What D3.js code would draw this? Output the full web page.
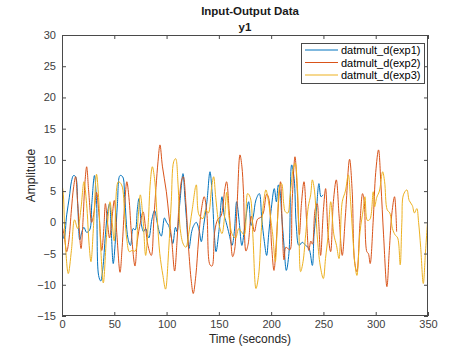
<!DOCTYPE html>
<html>
<head>
<meta charset="utf-8">
<script src="https://cdn.jsdelivr.net/npm/d3@7"></script>
<style>
  html, body { margin: 0; padding: 0; background: #ffffff; }
  svg { display: block; font-family: "Liberation Sans", Arial, Helvetica, sans-serif; }
</style>
</head>
<body>
<svg id="chart" width="474" height="355"></svg>
<script>
// ---- data (time in seconds, amplitude) ----
const seriesNames = ["datmult_d(exp1)", "datmult_d(exp2)", "datmult_d(exp3)"];
const seriesColors = ["#0072BD", "#D95319", "#EDB120"];
const xTicks = [0, 50, 100, 150, 200, 250, 300, 350];
const yTicks = [-15, -10, -5, 0, 5, 10, 15, 20, 25, 30];

const exp1T = [0,2,4.5,7,9,11,13,15,17,19,21,23.5,26.5,28.5,31,33,35,37,39,41.5,43.5,45.5,47,49,51,53,55.5,58,60,63,65.5,68,70,72,73.6,76,78,80,83,86,88.5,91,93,95,98,100,102,104,106,108.5,110,112.5,115.7,117.5,119,121.4,124,126,128.4,131,133.2,135.5,138.6,141.5,143.5,145.7,147.3,150,153,155,157,160,162.6,164.8,167,169.5,172,175,178.5,180.8,183,185.5,188.7,191,193.5,195.7,197.6,199.8,203,205,206.9,208.5,210,212.3,214.5,217,219.6,222,224,226.6,229.8,233,236.2,239.4,241,243.2,245.7,247.7,249.6];
const exp1V = [-1.5,-2.6,1.2,4,6.5,7.5,7.3,3,-2.8,-1.5,-0.8,-1.6,-1.2,3,7.5,3.5,-8.5,-9.4,-7.5,-2,1.5,3,-1,-6.6,-3,3,7.5,7.3,4,-2.5,-3.7,-1,-1.2,2,3.8,-0.4,-1.5,-1,-2.5,0.5,1.9,0,-1.5,-2.2,0.7,0,-0.5,-2,-3.4,-0.8,-1.5,2.8,7.8,4,0.6,-4.2,-1.5,-0.5,0,-1.2,-3.1,-0.5,3.3,8.1,4.9,-2,-4.7,-1.5,4.1,1.2,0,-2,-3.7,-1.5,3.3,0,-3.7,-0.3,3.3,-0.5,1,3.6,4.6,0.6,-3.1,-5.3,-2,1.7,5.4,3.3,6,5,1.4,-3.7,-7.7,-5,9.2,7,-0.4,-3.7,-3.2,-3.7,-4.2,-6.9,-2,1.7,6.2,4.1,4.4];

const exp2T = [0,2,4.5,6.5,9,11,13,15,18.2,20,22,23.6,25.5,28.4,30.5,33,35.5,38,40,41.5,43.5,45.5,48,50,52.5,55.5,57.5,60,62,64,66.5,69.8,72,75,77.5,80,82.2,85.4,88,91.8,93.7,96,99.8,102.3,105,107.7,110,112,114.5,116,118.5,121,123.7,125.5,128,130.5,133.3,136,138.5,141.5,143.5,146,149,152,155.8,157.4,160,163.2,165,167.5,170.2,172,173.5,175.9,178,181,184,187,190,192.5,195.7,197.5,200.5,202.7,205,207,209,210.5,212.3,214,216,218,220,222.8,225,227,229,231.4,234,236,238,239.5,242,244,245.5,247.3,250,252.1,254.5,256.9,259.5,262.3,265,268,271,275,277.5,279.8,282,285,287.4,289,291.5,293,294.7,297.5,300,302.7,305,307.5,310.7,313,315.5,318,320];
const exp2V = [-0.5,-2,-4.7,-3,2,5.5,7.3,3,-4.2,0,6.5,8.9,5,0,1.5,4.8,1,-4.5,-1,3,0,-2.5,1,3.5,-2,-8,-4,3,6.5,4,-2,-7,-3,0,1.7,-1,-3.7,-5.3,1,9.7,12.4,9,4.9,1,-3,-7.8,-3,3,6.8,7.3,3,-4,-9.5,-11.4,-8.5,-3,2,4.1,1.5,-6.8,-7,-1.5,0.5,1,5.4,6.5,1.5,-5.5,-4.5,3,10.8,9,5,-4.6,-3.5,1,-1.5,0.5,0.8,1.5,4.5,4,-3.9,-7.7,-3,3,6.5,0,-6,-4,-4.2,-4.4,3,10.5,5,-2,3,6.5,0,-4.5,-3,-3.5,2,3,0,-5.3,2,5.4,-2,-4.7,3.3,6.8,1,-5.3,1,10.1,5,-6.3,-7.9,0,4.6,3.3,-4.7,-5,-6.6,0,8,11.6,6,-2,-10.3,-4.5,1.5,4.1,-1.5];

const exp3T = [0,1.3,3,6,9,12,15,18,21,23.5,26,27.7,30,33,35,37,39.5,42.7,45.9,48,50,53.8,57,60,62,64.4,67,70,72.5,74.9,77.5,80,82.5,84.5,86.4,88.5,91,93.5,96.5,99,102,104.5,106.8,108.7,111,113,116,118.5,121,124.5,128.4,131,134.8,137.5,140,143,145,147,150,153,155.5,157.5,160,163,166,169,171.5,174.3,177.5,180,182.5,185.5,188,190.5,193,195,197.5,200,201.5,204,206,208.4,210,212,213.5,216,218,221,223,225,226.5,228.2,230.5,233,235.5,237.8,239.4,241.5,244,247,249.9,252,254.5,257,260,262.5,264.9,268,271,273.8,276,278,280,282,285,288,289.7,292,294.5,297.6,299,301,303.5,306.6,308.5,311,313.5,316,318.5,321,323.4,325,326.5,329.8,332,335,337,339.3,341,343,345.5,347.5,350];
const exp3V = [6.2,4.4,-2.8,-8.2,-4.5,0.4,-1,2,6.5,3,-3.7,-6.3,-1,7.7,4,-4,-9.7,-2,3.3,0,-3,6.5,6,1,-2.8,-4.7,-4.5,-4.6,0,4.4,0.5,-5.3,0,6.5,8.9,7,0.8,-5,-8.5,-10.7,-4.5,3.3,9.7,10.2,6,-1,-3.5,-4,-2,2,6,1.2,0.6,2,1.5,5.5,7.3,4,-0.2,-1.8,1,4.8,0.5,-2,-2.5,-1,-1.5,-2,4.6,4,-2,-10.6,-8.5,-1.5,3.5,5.2,3.3,0,-2,-6.3,0,5.9,6.2,3,1.7,1.5,4,8.5,9.5,6,-1,-7.9,-6.3,-2,2.5,4.4,6.8,5,-2,-7,-9,-5.8,-2,3.3,-2,-3.7,-5.8,3.3,5,7.6,3.3,-2,-6.5,-8.5,-1.5,2,4.1,0.3,0.5,4.9,2.5,4,5,8.1,6.5,2,1.5,-1,-2,-2.5,-6.8,0,4.4,5.2,3.5,2.7,1.5,2.2,0,-4,-9.8,-5,1.3];

const seriesT = [exp1T, exp2T, exp3T];
const seriesV = [exp1V, exp2V, exp3V];

// ---- layout ----
const svg = d3.select("#chart");
const pL = 62, pR = 428, pT = 35, pB = 316;
const axisColor = "#4a4a4a";
const textColor = "#404040";

svg.append("rect").attr("width", 474).attr("height", 355).attr("fill", "#ffffff");

const x = d3.scaleLinear().domain([0, 350]).range([pL, pR]);
const y = d3.scaleLinear().domain([-15, 30]).range([pB, pT]);

svg.append("clipPath").attr("id", "clip").append("rect")
  .attr("x", pL).attr("y", pT).attr("width", pR - pL).attr("height", pB - pT);

const line = d3.line()
  .x(d => x(d[0])).y(d => y(d[1]))
  .curve(d3.curveCatmullRom.alpha(0.5));

const gLines = svg.append("g").attr("clip-path", "url(#clip)");
seriesT.forEach((ts, i) => {
  const pts = ts.map((t, k) => [t, seriesV[i][k]]);
  gLines.append("path").datum(pts)
    .attr("fill", "none")
    .attr("stroke", seriesColors[i])
    .attr("stroke-width", 1)
    .attr("stroke-linejoin", "round")
    .attr("d", line);
});

function styleAxis(g) {
  g.select(".domain").remove();
  g.selectAll(".tick line").attr("stroke", axisColor);
  g.selectAll(".tick text").attr("fill", textColor).style("font-size", "11px")
    .style("font-family", "'Liberation Sans', Arial, sans-serif");
}
svg.append("g").attr("transform", `translate(0,${pB})`)
  .call(d3.axisBottom(x).tickValues(xTicks).tickSizeInner(-4).tickSizeOuter(0).tickPadding(4).tickFormat(d3.format("d")))
  .call(styleAxis);
svg.append("g").attr("transform", `translate(0,${pT})`)
  .call(d3.axisTop(x).tickValues(xTicks).tickSizeInner(-4).tickSizeOuter(0).tickFormat(""))
  .call(styleAxis);
svg.append("g").attr("transform", `translate(${pL},0)`)
  .call(d3.axisLeft(y).tickValues(yTicks).tickSizeInner(-4).tickSizeOuter(0).tickPadding(6).tickFormat(d3.format("d")))
  .call(styleAxis);
svg.append("g").attr("transform", `translate(${pR},0)`)
  .call(d3.axisRight(y).tickValues(yTicks).tickSizeInner(-4).tickSizeOuter(0).tickFormat(""))
  .call(styleAxis);

svg.append("rect").attr("x", pL + 0.5).attr("y", pT + 0.5)
  .attr("width", pR - pL - 1).attr("height", pB - pT - 1)
  .attr("fill", "none").attr("stroke", axisColor).attr("stroke-width", 1);

// titles
svg.append("text").attr("x", 250).attr("y", 15).attr("text-anchor", "middle")
  .attr("font-weight", "bold").attr("font-size", "11.5px").attr("fill", "#1a1a1a")
  .text("Input-Output Data");
svg.append("text").attr("x", 245).attr("y", 31).attr("text-anchor", "middle")
  .attr("font-weight", "bold").attr("font-size", "11.5px").attr("fill", "#1a1a1a")
  .text("y1");
svg.append("text").attr("x", 250).attr("y", 343).attr("text-anchor", "middle")
  .attr("font-size", "12px").attr("fill", "#262626")
  .text("Time (seconds)");
svg.append("text").attr("transform", `translate(35,${(pT + pB) / 2}) rotate(-90)`)
  .attr("text-anchor", "middle").attr("font-size", "12px").attr("fill", "#262626")
  .text("Amplitude");

// legend
const lg = svg.append("g");
lg.append("rect").attr("x", 301.5).attr("y", 43.5).attr("width", 123).attr("height", 40)
  .attr("fill", "#ffffff").attr("stroke", axisColor).attr("stroke-width", 1);
seriesNames.forEach((name, i) => {
  const yy = 50 + i * 12.5;
  lg.append("line").attr("x1", 305).attr("x2", 338).attr("y1", yy).attr("y2", yy)
    .attr("stroke", seriesColors[i]).attr("stroke-width", 1.1);
  lg.append("text").attr("x", 341).attr("y", yy + 4).attr("font-size", "11px")
    .attr("fill", "#000000").text(name);
});
</script>
</body>
</html>
